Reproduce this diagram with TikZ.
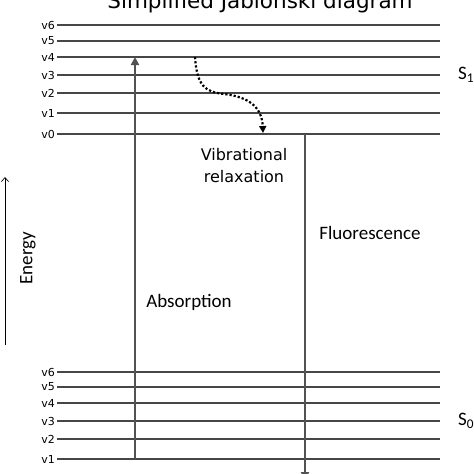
\documentclass[tikz,border=0pt]{standalone}
\usepackage{fontspec}
\setmainfont{Carlito}
\newfontfamily\dejavu{DejaVu Sans}
\usetikzlibrary{arrows.meta, positioning}

\begin{document}
\begin{tikzpicture}[
        x=1pt, y=-1pt,
        level/.style={draw=black!72, line width=1.8pt},
        vlabel/.style={anchor=east, inner sep=1pt, font=\dejavu\fontsize{11}{13}\selectfont},
        txt/.style={font=\fontsize{19}{22}\selectfont, inner sep=0pt},
        dtxt/.style={font=\dejavu\fontsize{16}{22}\selectfont, inner sep=0pt, align=center},
        trans/.style={draw=black!68, line width=2.8pt, -{Triangle[length=8pt, width=8pt]}},
        relax/.style={draw=black, line width=2.2pt, dotted, -{Triangle[length=7pt, width=7pt]}},
        energy/.style={draw=black, line width=0.7pt, -{Straight Barb[length=4pt, width=7pt]}}
    ]
        \useasboundingbox (0,0) rectangle (474,474);

        % Title
        \node[font=\dejavu\fontsize{21.5}{25}\selectfont, anchor=base, inner sep=0pt] (title) at (260,8) {Simplified Jablonski diagram};

        % Excited state S1
        \foreach \name/\y in {v6/25, v5/41, v4/57, v3/75, v2/93, v1/113, v0/134} {
            \draw[level] (57,\y) -- (440,\y);
            \node[vlabel] (s1\name) at (56,\y) {\name};
        }
        \node[txt, anchor=west] (sone) at (458,75) {S\textsubscript{1}};

        % Ground state S0
        \foreach \name/\y in {v6/372, v5/387, v4/403, v3/421, v2/439, v1/459} {
            \draw[level] (57,\y) -- (440,\y);
            \node[vlabel] (s0\name) at (56,\y) {\name};
        }
        \node[txt, anchor=west] (szero) at (458,421) {S\textsubscript{0}};

        % Transitions
        \coordinate (absstart) at (135,459);
        \coordinate (absend) at (135,57);
        \coordinate (flustart) at (305,134);
        \coordinate (fluend) at (305,480);
        \coordinate (relstart) at (195,57);
        \coordinate (relend) at (263,133);
        \draw[trans] (absstart) -- (absend);
        \draw[trans] (flustart) -- (fluend);
        \draw[relax] (relstart) .. controls (197,86) and (205,92) .. (224,94)
            .. controls (250,97) and (262,108) .. (relend);

        % Labels
        \node[dtxt] (vibrelax) at (244,166) {Vibrational\\relaxation};
        \node[txt] (fluor) at (370,233) {Fluorescence};
        \node[txt] (absorb) at (189,302) {Absorption};

        % Energy axis
        \coordinate (ebot) at (5,345);
        \coordinate (etop) at (5,177);
        \draw[energy] (ebot) -- (etop);
        \node[txt, rotate=90] (energylbl) at (28,258) {Energy};
    \end{tikzpicture}
\end{document}
